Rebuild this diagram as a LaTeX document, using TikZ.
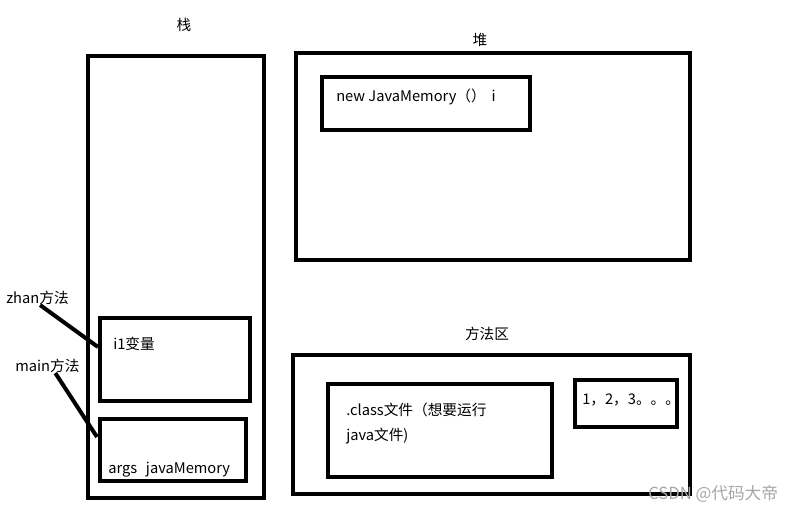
\documentclass[tikz,border=0pt]{standalone}
\usepackage{fontspec}
\setmainfont{Noto Sans CJK SC}
\begin{document}
\begin{tikzpicture}[x=0.75pt,y=-0.75pt,font=\fontsize{11}{13}\selectfont,
  box/.style={line width=3pt},
  lbl/.style={anchor=west,inner sep=0pt},
  ttl/.style={inner sep=0pt}]
\useasboundingbox (0,0) rectangle (798,513);
% stack
\node[ttl] (stackT) at (184,25){栈};
\draw[box] (88,56) rectangle (264,498);
\draw[box] (100,318) rectangle (250,401);
\node[lbl] (i1) at (113,344){i1变量};
\draw[box] (100,419) rectangle (246,481);
\node[lbl] (args) at (108,470){args\hspace{0.6em}javaMemory};
\node[lbl] (zhan) at (6,298){zhan方法};
\node[lbl] (main) at (15,366){main方法};
\coordinate (zhanE) at (98,347);
\coordinate (mainE) at (97,437);
\draw[box] ([xshift=2pt]zhan.south) -- (zhanE);
\draw[box] ([xshift=6pt]main.south) -- (mainE);
% heap
\node[ttl] (heapT) at (480,40){堆};
\draw[box] (296,53) rectangle (690,260);
\draw[box] (322,77) rectangle (530,130);
\node[lbl] (obj) at (336,97){new JavaMemory（）\hspace{0.4em}i};
% method area
\node[ttl] (methT) at (487,334){方法区};
\draw[box] (293,355) rectangle (690,494);
\draw[box] (328,384) rectangle (552,477);
\node[lbl] (cls) at (346,410){.class文件（想要运行};
\node[lbl] (java) at (346,436){java文件)};
\draw[box] (575,380) rectangle (677,427);
\node[lbl] (num) at (582,400){1，2，3。。。};
\node[lbl,text=black!35,font=\fontsize{12.5}{14}\selectfont] (mark) at (648,494){CSDN @代码大帝};
\end{tikzpicture}
\end{document}
